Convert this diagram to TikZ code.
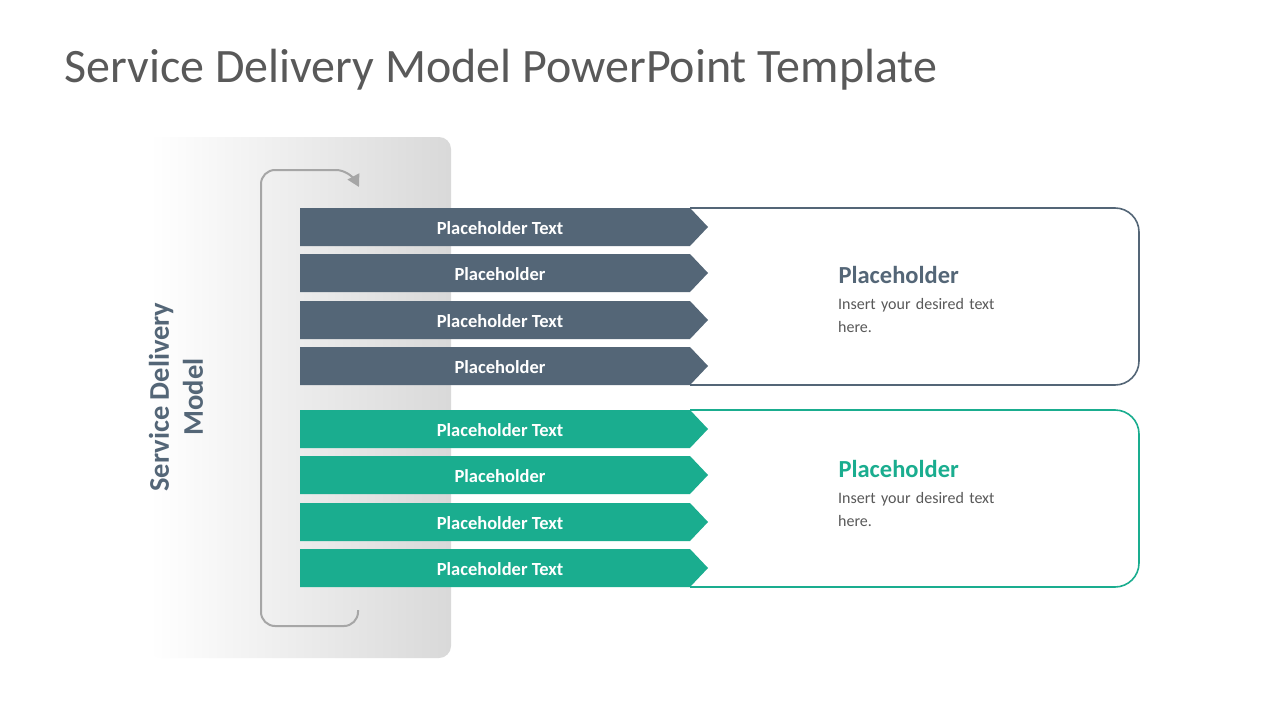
\documentclass[tikz,border=0pt]{standalone}
\usepackage{fontspec}
\setmainfont{Carlito}
\usetikzlibrary{arrows.meta}
\definecolor{dk}{HTML}{546677}
\definecolor{gr}{HTML}{1AAD8F}
\definecolor{tx}{HTML}{595959}
\definecolor{lp}{HTML}{A6A6A6}
\tikzset{
 bar/.style={fill=#1,draw=none},
 bartext/.style={text=white,font=\fontsize{18.5}{18.5}\selectfont\bfseries,anchor=center},
 outl/.style={draw=#1,line width=1.6pt,rounded corners=24pt},
 head/.style={anchor=west,font=\fontsize{24.5}{24.5}\selectfont\bfseries,text=#1},
 body/.style={anchor=north west,align=left,font=\fontsize{16}{23}\selectfont,text=tx,text width=200pt,inner sep=0pt}
}
\begin{document}
\begin{tikzpicture}[x=1pt,y=-1pt]
\useasboundingbox (0,0) rectangle (1280,720);
\fill[white] (0,0) rectangle (1280,720);
\node[anchor=base west,inner sep=0pt,text=tx,font=\fontsize{48}{48}\selectfont] (title) at (64,82) {Service Delivery Model PowerPoint Template};
% panel
\shade[left color=white,right color=black!15,rounded corners=12pt] (150,137) -- (451,137) -- (451,658) -- (150,658) [sharp corners] -- cycle;
% loop
\draw[lp,line width=2pt,rounded corners=14pt,-{Triangle[length=12pt,width=13pt]}] (358,610) -- (358,626) -- (261,626) -- (261,170) -- (350,170) -- (359,187);
% vertical text
\node[rotate=90,align=center,text=dk,font=\fontsize{28.5}{34}\selectfont\bfseries] (vt) at (176,397) {Service Delivery\\Model};
% outlines
\draw[outl=dk] (690,208) -- (1139,208) -- (1139,385) -- (690,385);
\draw[outl=gr] (690,410) -- (1139,410) -- (1139,587) -- (690,587);
% bars
\foreach \y/\t/\c/\n in {208/Placeholder Text/dk/a,254/Placeholder/dk/b,301/Placeholder Text/dk/c,347/Placeholder/dk/d,410/Placeholder Text/gr/e,456/Placeholder/gr/f,503/Placeholder Text/gr/g,549/Placeholder Text/gr/h}{
 \fill[\c] (300,\y) -- (690,\y) -- (708,\y+19) -- (690,\y+38) -- (300,\y+38) -- cycle;
 \node[bartext] (bar\n) at (500,\y+20) {\t};
}
\node[head=dk] (h1) at (835,275) {Placeholder};
\node[body] (b1) at (838,298) {Insert your desired text\\here.};
\node[head=gr] (h2) at (835,469) {Placeholder};
\node[body] (b2) at (838,492) {Insert your desired text\\here.};
\end{tikzpicture}
\end{document}
